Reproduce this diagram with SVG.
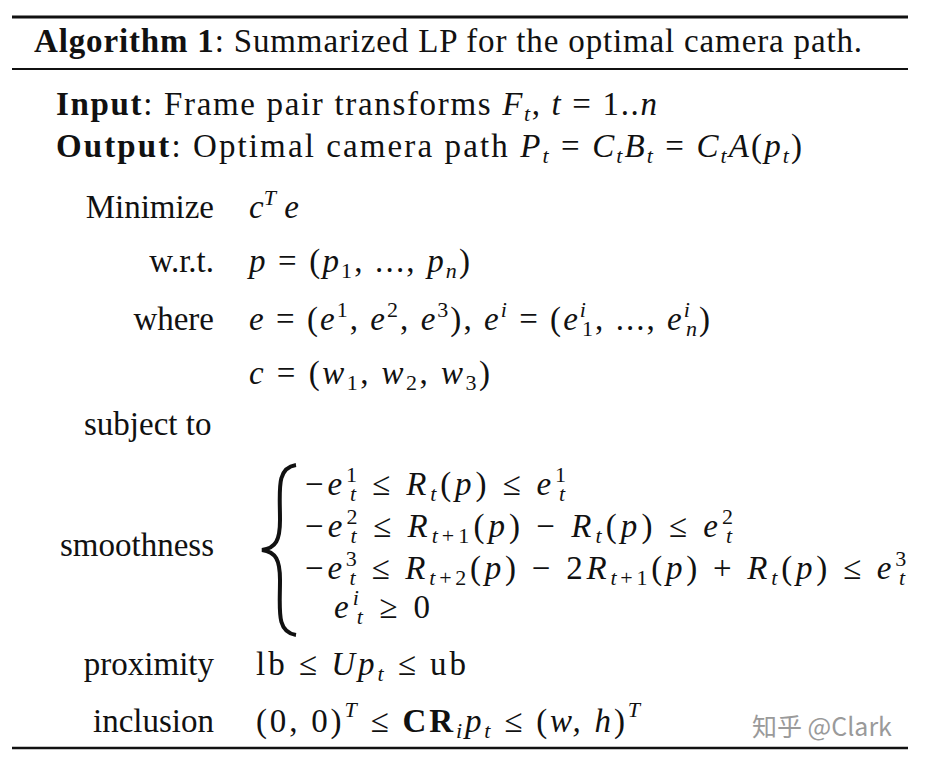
<svg xmlns="http://www.w3.org/2000/svg" width="934" height="765" viewBox="0 0 934 765">
<style>
text{font-family:"Liberation Serif","Times New Roman",serif;font-size:33px;fill:#111}
.t{font-size:33px}
.b{font-weight:bold}
.i{font-style:italic}
.r{text-anchor:end}
.s{font-size:22px}
.rule{stroke:#111}
</style>
<rect width="934" height="765" fill="#fff"/>
<line class="rule" x1="12" y1="17" x2="908" y2="17" stroke-width="3"/>
<line class="rule" x1="12" y1="69" x2="908" y2="69" stroke-width="2"/>
<line class="rule" x1="12" y1="748" x2="908" y2="748" stroke-width="2.5"/>
<text class="t" x="34" y="52" textLength="828" lengthAdjust="spacing"><tspan class="b">Algorithm 1</tspan>: Summarized LP for the optimal camera path.</text>
<text x="56" y="115" textLength="601" lengthAdjust="spacing"><tspan class="b">Input</tspan>: Frame pair transforms <tspan class="i">F</tspan><tspan class="i s" dy="6">t</tspan><tspan dy="-6">,  </tspan><tspan class="i">t</tspan> = 1..<tspan class="i">n</tspan></text>
<text x="56" y="157" textLength="746" lengthAdjust="spacing"><tspan class="b">Output</tspan>: Optimal camera path <tspan class="i">P</tspan><tspan class="i s" dy="6">t</tspan><tspan dy="-6"> = </tspan><tspan class="i">C</tspan><tspan class="i s" dy="6">t</tspan><tspan class="i" dy="-6">B</tspan><tspan class="i s" dy="6">t</tspan><tspan dy="-6"> = </tspan><tspan class="i">C</tspan><tspan class="i s" dy="6">t</tspan><tspan class="i" dy="-6">A</tspan>(<tspan class="i">p</tspan><tspan class="i s" dy="6">t</tspan><tspan dy="-6">)</tspan></text>
<text class="r" x="214" y="218">Minimize</text>
<text x="249" y="218"><tspan class="i">c</tspan><tspan class="i s" dy="-13">T</tspan><tspan class="i" dy="13"> e</tspan></text>
<text class="r" x="214" y="272">w.r.t.</text>
<text x="249" y="272" textLength="221" lengthAdjust="spacing"><tspan class="i">p</tspan> = (<tspan class="i">p</tspan><tspan class="s" dy="6">1</tspan><tspan dy="-6">, ..., </tspan><tspan class="i">p</tspan><tspan class="i s" dy="6">n</tspan><tspan dy="-6">)</tspan></text>
<text class="r" x="214" y="330">where</text>
<text x="249" y="330" textLength="461" lengthAdjust="spacing"><tspan class="i">e</tspan> = (<tspan class="i">e</tspan><tspan class="s" dy="-13">1</tspan><tspan dy="13">, </tspan><tspan class="i">e</tspan><tspan class="s" dy="-13">2</tspan><tspan dy="13">, </tspan><tspan class="i">e</tspan><tspan class="s" dy="-13">3</tspan><tspan dy="13">), </tspan><tspan class="i">e</tspan><tspan class="i s" dy="-13">i</tspan><tspan dy="13"> = (</tspan><tspan class="i">e</tspan><tspan class="i s" dy="-13">i</tspan><tspan class="s" dx="-6" dy="19">1</tspan><tspan dy="-6">, ..., </tspan><tspan class="i">e</tspan><tspan class="i s" dy="-13">i</tspan><tspan class="i s" dx="-6" dy="19">n</tspan><tspan dy="-6">)</tspan></text>
<text x="249" y="384" textLength="241" lengthAdjust="spacing"><tspan class="i">c</tspan> = (<tspan class="i">w</tspan><tspan class="s" dy="6">1</tspan><tspan dy="-6">, </tspan><tspan class="i">w</tspan><tspan class="s" dy="6">2</tspan><tspan dy="-6">, </tspan><tspan class="i">w</tspan><tspan class="s" dy="6">3</tspan><tspan dy="-6">)</tspan></text>
<text x="84" y="435">subject to</text>
<text class="r" x="214" y="556">smoothness</text>
<path d="M296 465 C 276 468, 280 490, 280 520 C 280 540, 276 548, 262 550 C 276 552, 280 560, 280 580 C 280 610, 276 632, 296 635" fill="none" stroke="#111" stroke-width="4"/>
<text x="305" y="495" textLength="265" lengthAdjust="spacing">−<tspan class="i">e</tspan><tspan class="s" dy="-13">1</tspan><tspan class="i s" dx="-11" dy="19">t</tspan><tspan dy="-6"> ≤ </tspan><tspan class="i">R</tspan><tspan class="i s" dy="6">t</tspan><tspan dy="-6">(</tspan><tspan class="i">p</tspan>) ≤ <tspan class="i">e</tspan><tspan class="s" dy="-13">1</tspan><tspan class="i s" dx="-11" dy="19">t</tspan></text>
<text x="305" y="537" textLength="432" lengthAdjust="spacing">−<tspan class="i">e</tspan><tspan class="s" dy="-13">2</tspan><tspan class="i s" dx="-11" dy="19">t</tspan><tspan dy="-6"> ≤ </tspan><tspan class="i">R</tspan><tspan class="i s" dy="6">t</tspan><tspan class="s">+1</tspan><tspan dy="-6">(</tspan><tspan class="i">p</tspan>) − <tspan class="i">R</tspan><tspan class="i s" dy="6">t</tspan><tspan dy="-6">(</tspan><tspan class="i">p</tspan>) ≤ <tspan class="i">e</tspan><tspan class="s" dy="-13">2</tspan><tspan class="i s" dx="-11" dy="19">t</tspan></text>
<text x="305" y="579" textLength="605" lengthAdjust="spacing">−<tspan class="i">e</tspan><tspan class="s" dy="-13">3</tspan><tspan class="i s" dx="-11" dy="19">t</tspan><tspan dy="-6"> ≤ </tspan><tspan class="i">R</tspan><tspan class="i s" dy="6">t</tspan><tspan class="s">+2</tspan><tspan dy="-6">(</tspan><tspan class="i">p</tspan>) − 2<tspan class="i">R</tspan><tspan class="i s" dy="6">t</tspan><tspan class="s">+1</tspan><tspan dy="-6">(</tspan><tspan class="i">p</tspan>) + <tspan class="i">R</tspan><tspan class="i s" dy="6">t</tspan><tspan dy="-6">(</tspan><tspan class="i">p</tspan>) ≤ <tspan class="i">e</tspan><tspan class="s" dy="-13">3</tspan><tspan class="i s" dx="-11" dy="19">t</tspan></text>
<text x="334" y="618" textLength="96" lengthAdjust="spacing"><tspan class="i">e</tspan><tspan class="i s" dy="-13">i</tspan><tspan class="i s" dx="-6" dy="19">t</tspan><tspan dy="-6"> ≥ 0</tspan></text>
<text class="r" x="214" y="675">proximity</text>
<text x="256" y="675" textLength="210" lengthAdjust="spacing">lb ≤ <tspan class="i">Up</tspan><tspan class="i s" dy="6">t</tspan><tspan dy="-6"> ≤ ub</tspan></text>
<text class="r" x="214" y="732">inclusion</text>
<text x="256" y="732" textLength="384" lengthAdjust="spacing">(0, 0)<tspan class="i s" dy="-15">T</tspan><tspan dy="15"> ≤ </tspan><tspan class="b">CR</tspan><tspan class="i s" dy="6">i</tspan><tspan class="i" dy="-6">p</tspan><tspan class="i s" dy="6">t</tspan><tspan dy="-6"> ≤ (</tspan><tspan class="i">w, h</tspan>)<tspan class="i s" dy="-15">T</tspan></text>
<text x="752" y="736" style="font-family:'Noto Sans CJK SC','Noto Sans',sans-serif;font-size:25px;fill:#9a9a9a">知乎 @Clark</text>
</svg>
